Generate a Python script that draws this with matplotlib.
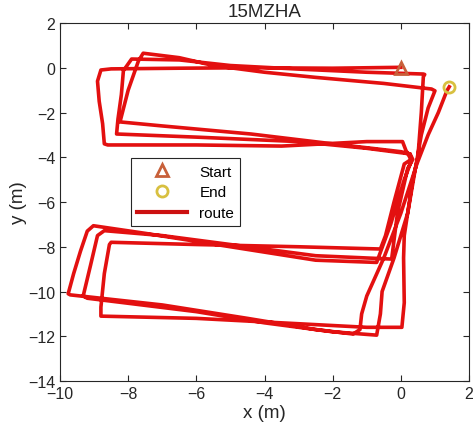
import numpy as np
import matplotlib
matplotlib.use('Agg')
import matplotlib.pyplot as plt

plt.rcParams['font.family'] = ['Liberation Sans', 'DejaVu Sans']

# route waypoints (m), one list per lap section
top1_x = [0.0, -2.0, -4.5, -6.5, -8.5, -8.8, -8.9, -8.85, -8.75, -8.7, -8.6, -6.0, -3.5, -1.0, 0.05, 0.15, 0.3]
top1_y = [0.02, -0.02, 0.0, -0.02, -0.05, -0.1, -0.6, -1.5, -2.5, -3.4, -3.45, -3.45, -3.5, -3.3, -3.3, -3.7, -4.1]

bot1_x = [0.1, -0.2, -0.45, -0.6, -3.0, -6.0, -8.5, -8.55, -8.7, -8.8, -8.8, -6.0, -3.5, -1.0, 0.03, 0.1, 0.08, 0.1, 0.35, 0.5, 0.6, 0.66, 0.7]
bot1_y = [-4.3, -6.0, -7.5, -8.1, -8.0, -7.9, -7.8, -7.9, -9.2, -10.7, -11.1, -11.2, -11.4, -11.6, -11.6, -10.5, -8.5, -7.5, -5.0, -4.0, -2.0, -0.4, -0.3]

top2_x = [0.66, -1.0, -3.0, -5.0, -6.5, -7.9, -8.14, -8.2, -8.3, -8.34, -6.0, -3.0, -1.0, 0.27, 0.35]
top2_y = [-0.28, -0.2, -0.06, 0.1, 0.35, 0.39, -0.13, -1.2, -2.3, -2.96, -3.1, -3.3, -3.6, -3.85, -4.1]

bot2_x = [0.2, -0.1, -0.27, -2.5, -5.0, -7.0, -8.7, -8.9, -9.1, -9.32, -9.2, -6.0, -4.0, -2.0, -0.71, -0.6, -0.55, -0.2, 0.2, 0.45, 0.6, 0.8, 1.0, 0.9]
bot2_y = [-4.5, -6.5, -8.55, -8.4, -7.9, -7.5, -7.28, -7.5, -8.8, -10.2, -10.3, -10.9, -11.4, -11.8, -11.95, -11.0, -10.0, -8.5, -6.5, -4.3, -3.0, -1.8, -1.03, -0.95]

top3_x = [0.9, -0.5, -2.5, -4.0, -5.5, -6.5, -7.56, -7.7, -8.0, -8.24, -7.0, -4.4, -2.0, 0.0, 0.27, 0.3]
top3_y = [-0.95, -0.7, -0.43, -0.2, 0.1, 0.45, 0.65, 0.3, -1.0, -2.42, -2.6, -2.96, -3.4, -3.75, -3.85, -4.2]

bot3_x = [0.1, -0.3, -0.71, -2.5, -5.0, -7.5, -9.02, -9.2, -9.4, -9.6, -9.76, -9.7, -7.0, -4.5, -2.5, -1.4, -1.2, -1.15, -1.0, -0.5, 0.0, 0.47, 0.8, 1.1, 1.35, 1.42]
bot3_y = [-5.0, -7.0, -8.7, -8.6, -8.0, -7.4, -7.06, -7.3, -8.2, -9.2, -10.1, -10.15, -10.6, -11.2, -11.7, -11.9, -11.7, -11.0, -10.2, -8.5, -6.5, -4.3, -3.0, -2.0, -1.03, -0.85]

start_xy = (0.0, 0.0)
end_xy = (1.42, -0.85)

route_x = np.concatenate([top1_x, bot1_x, top2_x, bot2_x, top3_x, bot3_x])
route_y = np.concatenate([top1_y, bot1_y, top2_y, bot2_y, top3_y, bot3_y])

fig = plt.figure(figsize=(4.74, 4.39), dpi=100)
ax = fig.add_axes([0.1266, 0.1298, 0.8629, 0.8155])

ax.plot(route_x, route_y, color='#e31010', lw=2.6, zorder=2)
ax.plot(*start_xy, marker='^', ls='none', ms=8, mew=2,
        mec='#c8603a', mfc='none', zorder=3)
ax.plot(*end_xy, marker='o', ls='none', ms=8, mew=2,
        mec='#d8c040', mfc='none', zorder=3)

# legend handles
h_start, = ax.plot([], [], marker='^', ls='none', ms=8, mew=2, mec='#c8603a', mfc='none', label='Start')
h_end, = ax.plot([], [], marker='o', ls='none', ms=8, mew=2, mec='#d8c040', mfc='none', label='End')
h_route, = ax.plot([], [], color='#cc1010', lw=3, label='route')
leg = ax.legend(handles=[h_start, h_end, h_route], loc='upper left',
                bbox_to_anchor=(0.154, 0.643), fontsize=11, handlelength=3.3,
                labelspacing=0.45, fancybox=False, framealpha=1,
                edgecolor='#262626', borderpad=0.4)
leg.get_frame().set_linewidth(0.8)

ax.set_xlim(-10, 2)
ax.set_ylim(-14, 2)
ax.set_xticks(np.arange(-10, 3, 2))
ax.set_yticks(np.arange(-14, 3, 2))
ax.tick_params(direction='in', top=True, right=True, labelsize=11.5,
               color='#262626', labelcolor='#262626', length=4)
for s in ax.spines.values():
    s.set_color('#262626')
    s.set_linewidth(0.8)
ax.set_xlabel('x (m)', fontsize=13.5, color='#262626', labelpad=2)
ax.set_ylabel('y (m)', fontsize=13.5, color='#262626', labelpad=1)
ax.set_title('15MZHA', fontsize=13.5, color='#262626', pad=5)

fig.savefig('out.png', dpi=100)
